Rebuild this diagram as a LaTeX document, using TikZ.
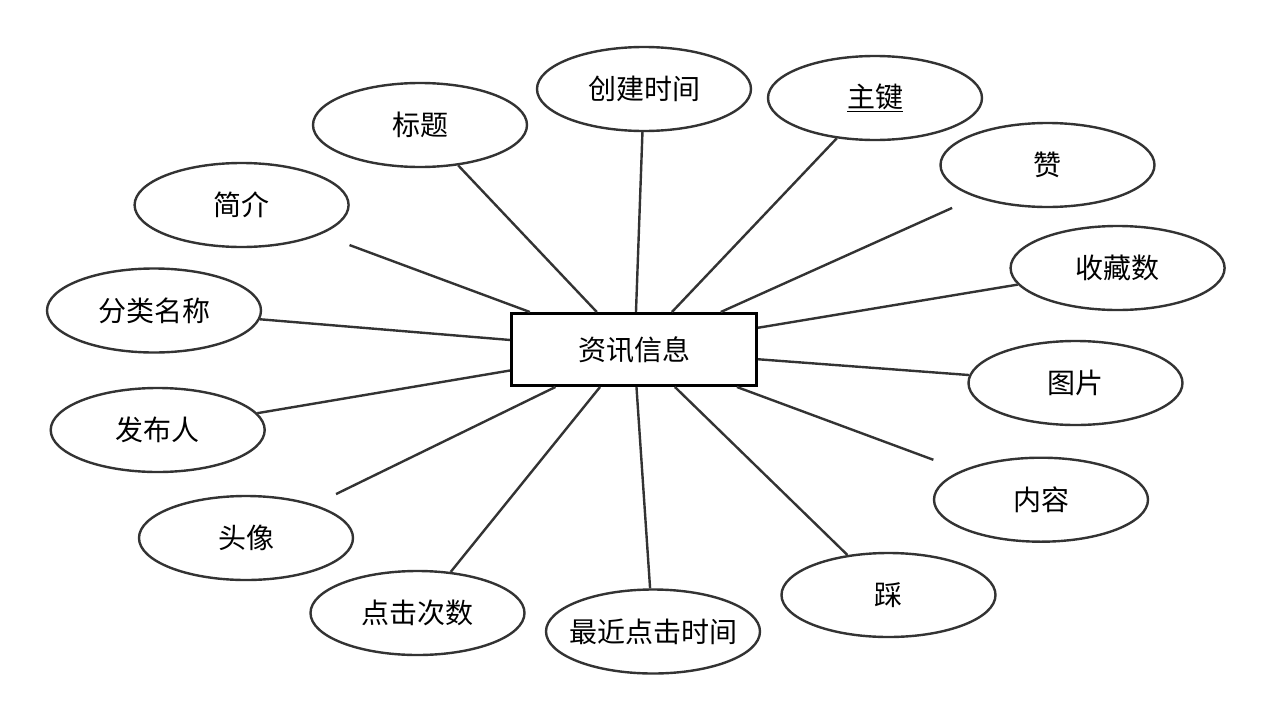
\documentclass[tikz,border=0pt]{standalone}
\usepackage{fontspec}
\setmainfont{Noto Sans CJK SC}
\usetikzlibrary{shapes.geometric,calc}
\definecolor{linegray}{HTML}{333333}
\begin{document}
\begin{tikzpicture}[x=1pt,y=-1pt,
  attr/.style={ellipse,draw=linegray,line width=2.4pt,minimum width=214pt,minimum height=84pt,inner sep=0pt,font=\fontsize{28}{30}\selectfont},
  entity/.style={rectangle,draw=black,line width=3.4pt,minimum width=244.6pt,minimum height=71.6pt,inner sep=0pt,font=\fontsize{28}{30}\selectfont},
  conn/.style={draw=linegray,line width=2.4pt}]
\useasboundingbox[fill=white] (0,0) rectangle (1264,720);

\node[entity] (r) at (634,349.5) {资讯信息};

\node[attr] (bt)  at (420,125)     {标题};
\node[attr] (cj)  at (644,89)      {创建时间};
\node[attr] (zj)  at (875,98)      {\underline{主键}};
\node[attr] (zan) at (1047.5,165)  {赞};
\node[attr] (sc)  at (1117.6,268)  {收藏数};
\node[attr] (tp)  at (1075.5,383)  {图片};
\node[attr] (nr)  at (1041,499.7)  {内容};
\node[attr] (cai) at (888.5,595)   {踩};
\node[attr] (zjd) at (653,631.5)   {\makebox[0pt]{最近点击时间}};
\node[attr] (dj)  at (417.5,613)   {点击次数};
\node[attr] (tx)  at (246,538)     {头像};
\node[attr] (fb)  at (157.7,430)   {发布人};
\node[attr] (fl)  at (154,310.5)   {分类名称};
\node[attr] (jj)  at (241.6,205)   {简介};

% start points on the rectangle
\coordinate (sjj)  at ($(r.north west)!0.08!(r.north east)$);
\coordinate (sbt)  at ($(r.north west)!0.35!(r.north east)$);
\coordinate (scj)  at ($(r.north west)!0.508!(r.north east)$);
\coordinate (szj)  at ($(r.north west)!0.653!(r.north east)$);
\coordinate (szan) at ($(r.north west)!0.85!(r.north east)$);
\coordinate (ssc)  at ($(r.north east)!0.21!(r.south east)$);
\coordinate (stp)  at ($(r.north east)!0.63!(r.south east)$);
\coordinate (snr)  at ($(r.south west)!0.915!(r.south east)$);
\coordinate (scai) at ($(r.south west)!0.665!(r.south east)$);
\coordinate (szjd) at ($(r.south west)!0.51!(r.south east)$);
\coordinate (sdj)  at ($(r.south west)!0.363!(r.south east)$);
\coordinate (stx)  at ($(r.south west)!0.183!(r.south east)$);
\coordinate (sfb)  at ($(r.north west)!0.78!(r.south west)$);
\coordinate (sfl)  at ($(r.north west)!0.373!(r.south west)$);

\draw[conn] (sbt) -- (bt);
\draw[conn] (scj) -- (cj);
\draw[conn] (szj) -- (zj);
\draw[conn] (ssc) -- (sc);
\draw[conn] (stp) -- (tp);
\draw[conn] (scai) -- (cai);
\draw[conn] (szjd) -- (zjd);
\draw[conn] (sdj) -- (dj);
\draw[conn] (sfb) -- (fb);
\draw[conn] (sfl) -- (fl);
% lines that stop short of their ellipse
\draw[conn] (sjj) -- ($(sjj)!0.6255!(jj.center)$);
\draw[conn] (szan) -- ($(szan)!0.708!(zan.center)$);
\draw[conn] (stx) -- ($(stx)!0.709!(tx.center)$);
\draw[conn] (snr) -- ($(snr)!0.646!(nr.center)$);
\end{tikzpicture}
\end{document}
